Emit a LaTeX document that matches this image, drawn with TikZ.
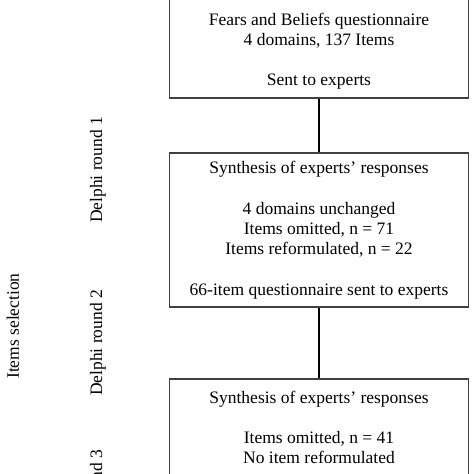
\documentclass[tikz,border=0pt]{standalone}
\usepackage{fontspec}
\setmainfont{Liberation Serif}
\usetikzlibrary{positioning}

\tikzset{
  stage/.style={draw=black!75, line width=1.1pt, minimum width=299pt, inner sep=0pt},
  stagetext/.style={align=center, inner sep=0pt},
  phase/.style={rotate=90, inner sep=0pt},
  link/.style={line width=1.8pt}
}

\begin{document}
\begin{tikzpicture}[x=1pt, y=-1pt, font=\fontsize{17.5}{20}\selectfont]
  \useasboundingbox (0,0) rectangle (474,474);
  \clip (0,0) rectangle (474,474);
  % boxes
  \node[stage, minimum height=140pt] (quest) at (319,28) {};
  \node[stage, minimum height=154pt] (synth1) at (319,230) {};
  \node[stage, minimum height=140pt] (synth2) at (319,449) {};
  % box texts
  \node[stagetext] (questtxt) at (319,51)
    {Fears and Beliefs questionnaire\\4 domains, 137 Items\\[20pt]Sent to experts};
  \node[stagetext] (synth1txt) at (319,230)
    {Synthesis of experts’ responses\\[21pt]4 domains unchanged\\Items omitted, n = 71\\
     Items reformulated, n = 22\\[21pt]66-item questionnaire sent to experts};
  \node[stagetext] (synth2txt) at (319,427)
    {Synthesis of experts’ responses\\[20pt]Items omitted, n = 41\\No item reformulated};
  % connectors
  \draw[link] (quest) -- (synth1);
  \draw[link] (synth1) -- (synth2);
  % side labels
  \node[phase] (selection) at (13,326) {Items selection};
  \node[phase] (round1) at (98,170) {Delphi round 1};
  \node[phase] (round2) at (98,343) {Delphi round 2};
  \node[phase] (round3) at (98,503) {Delphi round 3};
\end{tikzpicture}
\end{document}
